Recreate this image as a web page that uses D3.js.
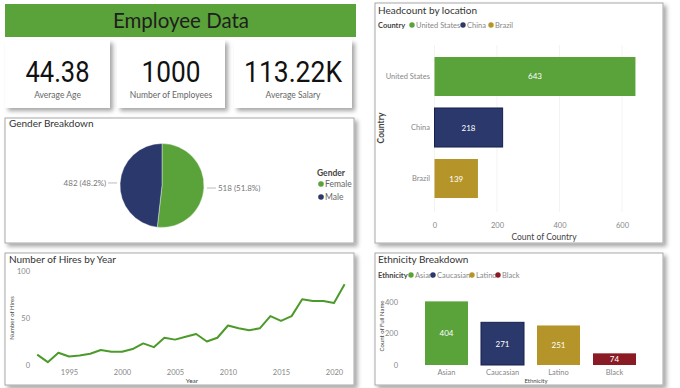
<!DOCTYPE html>
<html><head><meta charset="utf-8">
<script src="https://cdn.jsdelivr.net/npm/d3@7"></script>
<style>
html,body{margin:0;padding:0;background:#fff;}
svg{display:block;font-family:Lato,"Open Sans",sans-serif;}
</style></head>
<body><svg id="c" width="680" height="388"></svg>
<script>
const dashTitle = "Employee Data";
const kpiValues = ["44.38", "1000", "113.22K"];
const kpiLabels = ["Average Age", "Number of Employees", "Average Salary"];
const genderLabels = ["Female", "Male"];
const genderValues = [518, 482];
const years = [1992,1993,1994,1995,1996,1997,1998,1999,2000,2001,2002,2003,2004,2005,2006,2007,2008,2009,2010,2011,2012,2013,2014,2015,2016,2017,2018,2019,2020,2021];
const hires = [11,3,13,9,10,12,16,14,14,17,23,19,29,27,30,33,25,29,42,39,37,39,52,47,52,70,68,68,66,86];
const hireYearTicks = [1995,2000,2005,2010,2015,2020];
const hireValueTicks = [0,50,100];
const countries = ["United States", "China", "Brazil"];
const countryCounts = [643, 218, 139];
const countryTicks = [0,200,400,600];
const ethnicities = ["Asian", "Caucasian", "Latino", "Black"];
const ethnicityCounts = [404, 271, 251, 74];
const ethnicityTicks = [0,200,400];

const GREEN = "#5aa23a", NAVY = "#2b386b", GOLD = "#b5952a", RED = "#8a1a24";
const svg = d3.select("#c");
const defs = svg.append("defs");
const f = defs.append("filter").attr("id","sh").attr("x","-10%").attr("y","-10%").attr("width","130%").attr("height","130%");
f.append("feDropShadow").attr("dx",3).attr("dy",3).attr("stdDeviation",2).attr("flood-color","#000").attr("flood-opacity",0.35);

function panel(x,y,w,h){
  svg.append("rect").attr("x",x).attr("y",y).attr("width",w).attr("height",h)
    .attr("fill","#fff").attr("stroke","#a8a8a8").attr("stroke-width",1).attr("filter","url(#sh)");
}
function title(x,y,t){
  svg.append("text").attr("x",x).attr("y",y).attr("font-size",10).attr("fill","#333").text(t);
}

// Title bar
svg.append("rect").attr("x",5).attr("y",4).attr("width",351).attr("height",33).attr("fill",GREEN);
svg.append("text").attr("x",181).attr("y",28).attr("text-anchor","middle").attr("font-size",20.5).attr("fill","#1e1e1e").text(dashTitle);

// KPI cards
const cards = [[5,110],[117,225],[234,352]];
const kpiWidths = [64,59,98];
cards.forEach((c,i)=>{
  svg.append("rect").attr("x",c[0]).attr("y",40).attr("width",c[1]-c[0]).attr("height",68).attr("fill","#fff").attr("filter","url(#sh)");
  const cx=(c[0]+c[1])/2;
  svg.append("text").attr("x",cx).attr("y",82).attr("text-anchor","middle").attr("font-family","Roboto").attr("font-size",30)
    .attr("fill","#111").attr("textLength",kpiWidths[i]).attr("lengthAdjust","spacingAndGlyphs").text(kpiValues[i]);
  svg.append("text").attr("x",cx).attr("y",98).attr("text-anchor","middle").attr("font-size",8.5).attr("fill","#666").text(kpiLabels[i]);
});

// Gender panel
panel(5,118,349,125);
title(9,127,"Gender Breakdown");
const pieG = svg.append("g").attr("transform","translate(162,185.5)");
const arcs = d3.pie().sort(null).value(d=>d)(genderValues);
const R = 42;
const arc = d3.arc().innerRadius(0).outerRadius(R);
const gcol = [GREEN, NAVY];
pieG.selectAll("path").data(arcs).join("path").attr("d",arc).attr("fill",(d,i)=>gcol[i]).attr("stroke","#fff").attr("stroke-width",0.4);
const total = d3.sum(genderValues);
arcs.forEach((d,i)=>{
  const a=(d.startAngle+d.endAngle)/2;
  const px=Math.sin(a)*(R+3), py=-Math.cos(a)*(R+3);
  const dir = Math.sin(a)>0?1:-1;
  pieG.append("line").attr("x1",px).attr("y1",py).attr("x2",px+dir*9).attr("y2",py).attr("stroke","#aaa").attr("stroke-width",0.8);
  pieG.append("text").attr("x",px+dir*11).attr("y",py+3).attr("text-anchor",dir>0?"start":"end").attr("font-size",8).attr("fill","#777")
    .text(`${d.data} (${(d.data/total*100).toFixed(1)}%)`);
});
svg.append("text").attr("x",317).attr("y",176).attr("font-size",8.5).attr("font-weight","bold").attr("fill","#444").text("Gender");
genderLabels.forEach((g,i)=>{
  const y=184+i*13;
  svg.append("circle").attr("cx",321).attr("cy",y).attr("r",2.8).attr("fill",gcol[i]);
  svg.append("text").attr("x",325).attr("y",y+3).attr("font-size",8.5).attr("fill","#666").text(g);
});

// Hires panel
panel(5,253,349,132);
title(9,263,"Number of Hires by Year");
const hx = d3.scaleLinear().domain([1995,2020]).range([69,334]);
const hy = d3.scaleLinear().domain([0,100]).range([365,271]);
const hxa = svg.append("g").attr("transform","translate(0,365)").call(d3.axisBottom(hx).tickValues(hireYearTicks).tickFormat(d3.format("d")).tickSize(0).tickPadding(5));
const hya = svg.append("g").attr("transform","translate(32,0)").call(d3.axisLeft(hy).tickValues(hireValueTicks).tickSize(0).tickPadding(2));
[hxa,hya].forEach(a=>{a.select(".domain").remove();a.selectAll("text").attr("font-size",7.5).attr("fill","#888").attr("font-family","Lato");});
svg.append("path").datum(years.map((y,i)=>[y,hires[i]]))
  .attr("d",d3.line().x(d=>hx(d[0])).y(d=>hy(d[1]))).attr("fill","none").attr("stroke","#4c9a2a").attr("stroke-width",2).attr("stroke-linejoin","round");
svg.append("text").attr("x",192).attr("y",383).attr("text-anchor","middle").attr("font-size",6.5).attr("fill","#444").text("Year");
svg.append("text").attr("transform","translate(14,318) rotate(-90)").attr("text-anchor","middle").attr("font-size",6).attr("fill","#444").text("Number of Hires");

// Headcount panel
panel(375,3,288,240);
title(378,14,"Headcount by location");
const ccol = [GREEN, NAVY, GOLD];
function legend(x0,y,label,names,cols,xs){
  svg.append("text").attr("x",x0).attr("y",y+2.5).attr("font-size",7.5).attr("font-weight","bold").attr("fill","#444").text(label);
  names.forEach((n,i)=>{
    svg.append("circle").attr("cx",xs[i]).attr("cy",y).attr("r",2.7).attr("fill",cols[i]);
    svg.append("text").attr("x",xs[i]+4).attr("y",y+2.5).attr("font-size",7.5).attr("fill","#888").text(n);
  });
}
legend(378,25,"Country",countries,ccol,[412,463,491]);
const bx = d3.scaleLinear().domain([0,600]).range([434.5,622]);
const by = d3.scaleBand().domain(countries).range([45,210]).padding(0.235);
countryTicks.forEach(t=>{
  svg.append("line").attr("x1",bx(t)).attr("x2",bx(t)).attr("y1",45).attr("y2",212).attr("stroke","#f3f3f3");
});
svg.selectAll(".hb").data(countries).join("rect").attr("x",bx(0)).attr("y",d=>by(d))
  .attr("width",(d,i)=>bx(countryCounts[i])-bx(0)).attr("height",by.bandwidth()).attr("fill",(d,i)=>ccol[i])
  .attr("stroke",(d,i)=>i==1?"#17214f":"none").attr("stroke-width",1);
countries.forEach((c,i)=>{
  svg.append("text").attr("x",(bx(0)+bx(countryCounts[i]))/2).attr("y",by(c)+by.bandwidth()/2+3).attr("text-anchor","middle")
    .attr("font-size",8).attr("fill","#fff").text(countryCounts[i]);
});
const bya = svg.append("g").attr("transform","translate(430,0)").call(d3.axisLeft(by).tickSize(0).tickPadding(0));
const bxa = svg.append("g").attr("transform","translate(0,218)").call(d3.axisBottom(bx).tickValues(countryTicks).tickSize(0).tickPadding(5));
[bya,bxa].forEach(a=>{a.select(".domain").remove();a.selectAll("text").attr("font-size",7.5).attr("fill","#888").attr("font-family","Lato");});
svg.append("text").attr("x",544).attr("y",240).attr("text-anchor","middle").attr("font-size",8.5).attr("fill","#444").text("Count of Country");
svg.append("text").attr("transform","translate(384,128) rotate(-90)").attr("text-anchor","middle").attr("font-size",8.5).attr("font-weight","bold").attr("fill","#444").text("Country");

// Ethnicity panel
panel(375,253,288,132);
title(378,263,"Ethnicity Breakdown");
const ecol = [GREEN, NAVY, GOLD, RED];
legend(378,275,"Ethnicity",ethnicities,ecol,[411,433,472,498]);
const ex = d3.scaleBand().domain(ethnicities).range([412,649]).padding(0.232);
const ey = d3.scaleLinear().domain([0,400]).range([365,302]);
svg.selectAll(".vb").data(ethnicities).join("rect").attr("x",d=>ex(d)).attr("y",(d,i)=>ey(ethnicityCounts[i]))
  .attr("width",ex.bandwidth()).attr("height",(d,i)=>ey(0)-ey(ethnicityCounts[i])).attr("fill",(d,i)=>ecol[i])
  .attr("stroke",(d,i)=>i==1?"#17214f":"none");
ethnicities.forEach((e,i)=>{
  svg.append("text").attr("x",ex(e)+ex.bandwidth()/2).attr("y",(ey(0)+ey(ethnicityCounts[i]))/2+3).attr("text-anchor","middle")
    .attr("font-size",8).attr("fill","#fff").text(ethnicityCounts[i]);
});
const exa = svg.append("g").attr("transform","translate(0,366)").call(d3.axisBottom(ex).tickSize(0).tickPadding(4));
const eya = svg.append("g").attr("transform","translate(398,0)").call(d3.axisLeft(ey).tickValues(ethnicityTicks).tickSize(0).tickPadding(0));
[exa,eya].forEach(a=>{a.select(".domain").remove();a.selectAll("text").attr("font-size",7.5).attr("fill","#888").attr("font-family","Lato");});
svg.append("text").attr("x",536).attr("y",383).attr("text-anchor","middle").attr("font-size",6).attr("fill","#444").text("Ethnicity");
svg.append("text").attr("transform","translate(384,326) rotate(-90)").attr("text-anchor","middle").attr("font-size",6).attr("fill","#444").text("Count of Full Name");
</script></body></html>
